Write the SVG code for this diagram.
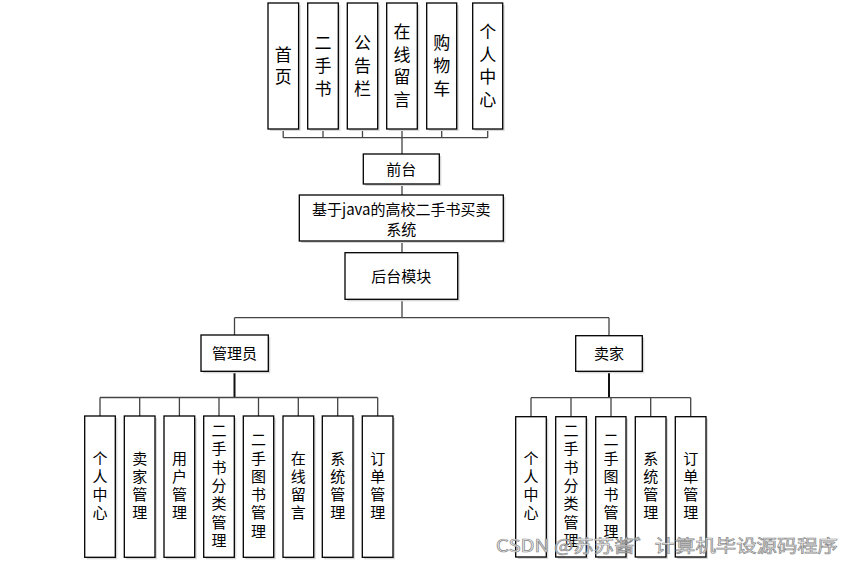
<svg xmlns="http://www.w3.org/2000/svg" width="854" height="564" viewBox="0 0 854 564">
<style>
.box{fill:#fff;stroke:#000;stroke-width:1.3}
.sh{fill:#d8d8d8}
.t{font-family:"Noto Sans CJK SC","Liberation Sans",sans-serif;fill:#000;text-anchor:middle}
.v{writing-mode:vertical-rl;text-orientation:upright}
.tt{font-size:17px;letter-spacing:5.7px}
.bt{font-size:15px}
.bv{font-size:15px;letter-spacing:3.3px}
.ln{fill:none;stroke:#444;stroke-width:1.3}
.stem{fill:none;stroke:#111;stroke-width:2}
</style>
<rect width="854" height="564" fill="#fff"/>
<g id="connectors">
<path class="ln" d="M283.2 129V137.7M323 129V137.7M362.5 129V137.7M402 129V137.7M441.7 129V137.7M487.7 129V137.7M283.2 137.7H487.7M402 137.7V154"/>
<path class="ln" d="M402 184V195M402 241V252.7M402 299.3V317.7M234.5 317.7H609M234.5 317.7V335M609 317.7V335.7"/>
<path class="stem" d="M234.5 371.3V397.5M609 371.3V397.7"/>
<path class="ln" d="M100 397.5H377.7M100 397.5V416M139.7 397.5V416M179.4 397.5V416M219 397.5V416M258.5 397.5V416M298.3 397.5V416M337.7 397.5V416M377.7 397.5V416"/>
<path class="ln" d="M531 397.7H690.7M531 397.7V416.7M571 397.7V416.7M611 397.7V416.7M650.7 397.7V416.7M690.7 397.7V416.7"/>
</g>
<g id="top1"><rect class="sh" x="270" y="5" width="30.6" height="126"/><rect class="box" x="268" y="3" width="30.6" height="126"/><text class="t v tt" x="283.2" y="68.5">首页</text></g>
<g id="top2"><rect class="sh" x="309.7" y="5" width="30.6" height="126"/><rect class="box" x="307.7" y="3" width="30.6" height="126"/><text class="t v tt" x="323" y="68.5">二手书</text></g>
<g id="top3"><rect class="sh" x="349.3" y="5" width="30.4" height="126"/><rect class="box" x="347.3" y="3" width="30.4" height="126"/><text class="t v tt" x="362.5" y="68.5">公告栏</text></g>
<g id="top4"><rect class="sh" x="388.7" y="5" width="30.6" height="126"/><rect class="box" x="386.7" y="3" width="30.6" height="126"/><text class="t v tt" x="402" y="68.5">在线留言</text></g>
<g id="top5"><rect class="sh" x="428.7" y="5" width="30" height="126"/><rect class="box" x="426.7" y="3" width="30" height="126"/><text class="t v tt" x="441.7" y="68.5">购物车</text></g>
<g id="top6"><rect class="sh" x="474.7" y="5" width="30" height="126"/><rect class="box" x="472.7" y="3" width="30" height="126"/><text class="t v tt" x="487.7" y="68.5">个人中心</text></g>
<g id="qiantai"><rect class="sh" x="365.3" y="156" width="76" height="30"/><rect class="box" x="363.3" y="154" width="76" height="30"/><text class="t bt" x="401.3" y="174.5">前台</text></g>
<g id="system"><rect class="sh" x="301.3" y="197" width="204" height="46"/><rect class="box" x="299.3" y="195" width="204" height="46"/><text class="t bt" x="401.3" y="214.5">基于java的高校二手书买卖</text><text class="t bt" x="401.3" y="235">系统</text></g>
<g id="houtai"><rect class="sh" x="347" y="254.7" width="112.7" height="46.6"/><rect class="box" x="345" y="252.7" width="112.7" height="46.6"/><text class="t bt" x="401.3" y="282">后台模块</text></g>
<g id="admin"><rect class="sh" x="203" y="337" width="67.3" height="36.3"/><rect class="box" x="201" y="335" width="67.3" height="36.3"/><text class="t bt" x="234.6" y="358.6">管理员</text></g>
<g id="seller"><rect class="sh" x="577.7" y="337.7" width="66.6" height="35.6"/><rect class="box" x="575.7" y="335.7" width="66.6" height="35.6"/><text class="t bt" x="609" y="358.6">卖家</text></g>
<g id="a1"><rect class="sh" x="86.7" y="418" width="30.6" height="141.3"/><rect class="box" x="84.7" y="416" width="30.6" height="141.3"/><text class="t v bv" x="100" y="487">个人中心</text></g>
<g id="a2"><rect class="sh" x="126.3" y="418" width="30.7" height="141.3"/><rect class="box" x="124.3" y="416" width="30.7" height="141.3"/><text class="t v bv" x="139.7" y="487">卖家管理</text></g>
<g id="a3"><rect class="sh" x="166" y="418" width="30.7" height="141.3"/><rect class="box" x="164" y="416" width="30.7" height="141.3"/><text class="t v bv" x="179.4" y="487">用户管理</text></g>
<g id="a4"><rect class="sh" x="205.7" y="418" width="30.6" height="141.3"/><rect class="box" x="203.7" y="416" width="30.6" height="141.3"/><text class="t v bv" x="219" y="487">二手书分类管理</text></g>
<g id="a5"><rect class="sh" x="245.3" y="418" width="30.4" height="141.3"/><rect class="box" x="243.3" y="416" width="30.4" height="141.3"/><text class="t v bv" x="258.5" y="487">二手图书管理</text></g>
<g id="a6"><rect class="sh" x="285" y="418" width="30.7" height="141.3"/><rect class="box" x="283" y="416" width="30.7" height="141.3"/><text class="t v bv" x="298.3" y="487">在线留言</text></g>
<g id="a7"><rect class="sh" x="324.3" y="418" width="30.7" height="141.3"/><rect class="box" x="322.3" y="416" width="30.7" height="141.3"/><text class="t v bv" x="337.7" y="487">系统管理</text></g>
<g id="a8"><rect class="sh" x="364.3" y="418" width="30.7" height="141.3"/><rect class="box" x="362.3" y="416" width="30.7" height="141.3"/><text class="t v bv" x="377.7" y="487">订单管理</text></g>
<g id="s1"><rect class="sh" x="517.7" y="418.7" width="30.6" height="140.3"/><rect class="box" x="515.7" y="416.7" width="30.6" height="140.3"/><text class="t v bv" x="531" y="487">个人中心</text></g>
<g id="s2"><rect class="sh" x="557.7" y="418.7" width="30.6" height="140.3"/><rect class="box" x="555.7" y="416.7" width="30.6" height="140.3"/><text class="t v bv" x="571" y="487">二手书分类管理</text></g>
<g id="s3"><rect class="sh" x="597.7" y="418.7" width="30.3" height="140.3"/><rect class="box" x="595.7" y="416.7" width="30.3" height="140.3"/><text class="t v bv" x="611" y="487">二手图书管理</text></g>
<g id="s4"><rect class="sh" x="637.3" y="418.7" width="30.7" height="140.3"/><rect class="box" x="635.3" y="416.7" width="30.7" height="140.3"/><text class="t v bv" x="650.7" y="487">系统管理</text></g>
<g id="s5"><rect class="sh" x="677.3" y="418.7" width="30.7" height="140.3"/><rect class="box" x="675.3" y="416.7" width="30.7" height="140.3"/><text class="t v bv" x="690.7" y="487">订单管理</text></g>
<text x="496" y="551.5" font-family="Noto Sans CJK SC,Liberation Sans,sans-serif" font-size="17.5" fill="#f2f2f2" fill-opacity="0.85" stroke="#8a8a8a" stroke-width="0.7" textLength="342" lengthAdjust="spacingAndGlyphs">CSDN @苏苏酱゛计算机毕设源码程序</text>
</svg>
